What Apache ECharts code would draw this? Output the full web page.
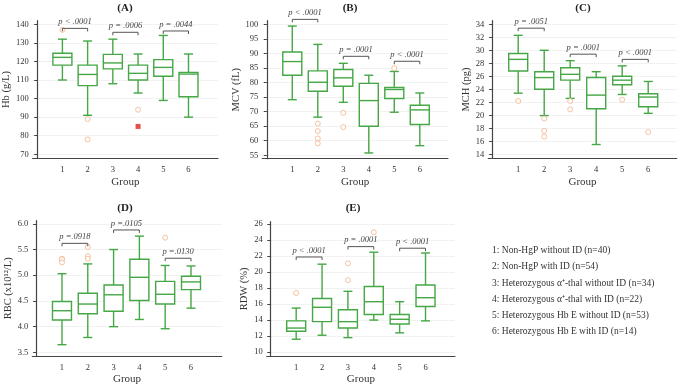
<!DOCTYPE html>
<html>
<head>
<meta charset="utf-8">
<script src="https://cdn.jsdelivr.net/npm/echarts@6/dist/echarts.min.js"></script>
<style>
  html, body { margin: 0; padding: 0; background: #fff; }
  #chart { width: 685px; height: 386px; }
</style>
</head>
<body>
<div id="chart"></div>
<script>
// groups on the x axis
const groups = [1, 2, 3, 4, 5, 6]
const groupLabels = [
  '1: Non-HgP without ID (n=40)',
  '2: Non-HgP with ID (n=54)',
  '3: Heterozygous α⁺-thal without ID (n=34)',
  '4: Heterozygous α⁺-thal with ID (n=22)',
  '5: Heterozygous Hb E without ID (n=53)',
  '6: Heterozygous Hb E with ID (n=14)'
]

// boxes: [min, q1, median, q3, max] per group
const hbBox = [[110, 118, 122.2, 124.4, 132], [91, 107, 113, 118, 131], [108, 116, 119.2, 123.8, 132], [103, 110, 113.6, 118, 124], [99, 112, 116.8, 121, 134], [90, 101, 113.2, 114.1, 124]]
const hbOut = [[1, 137], [2, 89], [2, 78], [4, 94]]
const hbFar = [[4, 85]]
const hbP = [[1, 2, 137.8, 'p < .0001'], [3, 4, 135.7, 'p = .0006'], [5, 6, 136.4, 'p = .0044']]
const hbTicks = [70, 80, 90, 100, 110, 120, 130, 140]

const mcvBox = [[74.1, 82.5, 87.2, 90.5, 99.4], [68.1, 77, 80.1, 84, 93.1], [73.2, 78.7, 81.6, 84.5, 86.6], [55.8, 65, 73.8, 79.7, 82.5], [69.8, 74.5, 77.6, 78.3, 83.8], [58.3, 65.6, 70.6, 72.2, 76.4]]
const mcvOut = [[2, 65.9], [2, 63.3], [2, 60.8], [2, 59.1], [3, 69.6], [3, 64.7], [5, 84.9]]
const mcvP = [[1, 2, 101.7, 'p < .0001'], [3, 4, 89.0, 'p = .0001'], [5, 6, 87.3, 'p < .0001']]
const mcvTicks = [55, 60, 65, 70, 75, 80, 85, 90, 95, 100]

const mchBox = [[23.4, 26.8, 28.6, 29.5, 32.3], [19.95, 24, 25.8, 26.7, 30], [22.6, 25.4, 26.3, 27.3, 28.4], [15.5, 21, 23.1, 25.8, 26.7], [23.2, 24.7, 25.4, 26, 27.6], [20.3, 21.3, 22.8, 23.3, 25.2]]
const mchOut = [[1, 22.2], [2, 19.5], [2, 17.6], [2, 16.7], [3, 22.2], [3, 20.9], [5, 22.4], [6, 17.4]]
const mchP = [[1, 2, 33.4, 'p = .0051'], [3, 4, 29.4, 'p = .0001'], [5, 6, 28.6, 'p < .0001']]
const mchTicks = [14, 16, 18, 20, 22, 24, 26, 28, 30, 32, 34]

const rbcBox = [[3.65, 4.13, 4.31, 4.49, 5.03], [3.79, 4.25, 4.44, 4.65, 5.22], [4.0, 4.3, 4.62, 4.81, 5.5], [4.14, 4.51, 4.96, 5.31, 5.76], [3.96, 4.44, 4.63, 4.88, 5.19], [4.36, 4.72, 4.87, 4.98, 5.18]]
const rbcOut = [[1, 5.32], [1, 5.31], [1, 5.25], [2, 5.55], [2, 5.37], [2, 5.32], [5, 5.73]]
const rbcP = [[1, 2, 5.62, 'p =.0918'], [3, 4, 5.88, 'p =.0105'], [5, 6, 5.33, 'p =.0130']]
const rbcTicks = [3.5, 4.0, 4.5, 5.0, 5.5, 6.0]

const rdwBox = [[11.6, 12.6, 13.0, 13.9, 15.5], [12.1, 13.8, 15.6, 16.7, 21], [11.8, 13.0, 13.8, 15.3, 17.6], [14.0, 14.7, 16.3, 18.2, 22.5], [12.4, 13.5, 14.1, 14.7, 16.3], [13.9, 15.7, 16.8, 18.4, 22.4]]
const rdwOut = [[1, 17.4], [3, 21.1], [3, 19.0], [4, 25.0]]
const rdwP = [[1, 2, 21.9, 'p < .0001'], [3, 4, 23.2, 'p = .0001'], [5, 6, 23.0, 'p < .0001']]
const rdwTicks = [10, 12, 14, 16, 18, 20, 22, 24, 26]

const boxColor = '#45a745'
const outColor = '#f3b48a'
const serif = 'Liberation Serif'

// panel frames (pixels) and axis ranges
const panels = [
  { tag: '(A)', name: 'Hb (g/L)', box: hbBox, out: hbOut, far: hbFar, p: hbP, ticks: hbTicks, dec: 0,
    grid: { left: 31, top: 20.7, width: 187, height: 137.6 }, x: [-0.18, 7.17], y: [67.85, 141.94], titleAt: [125, 8], nameGap: 18 },
  { tag: '(B)', name: 'MCV (fL)', box: mcvBox, out: mcvOut, p: mcvP, ticks: mcvTicks, dec: 0,
    grid: { left: 262.3, top: 20.7, width: 185.7, height: 138 }, x: [-0.176, 7.106], y: [53.83, 101.24], titleAt: [350, 8], nameGap: 17 },
  { tag: '(C)', name: 'MCH (pg)', box: mchBox, out: mchOut, p: mchP, ticks: mchTicks, dec: 0,
    grid: { left: 488.3, top: 20.7, width: 188.4, height: 137.6 }, x: [-0.15, 7.096], y: [13.38, 34.55], titleAt: [583, 8], nameGap: 14 },
  { tag: '(D)', name: 'RBC (x10¹²/L)', box: rbcBox, out: rbcOut, p: rbcP, ticks: rbcTicks, dec: 1,
    grid: { left: 32.3, top: 220.7, width: 189.4, height: 136.6 }, x: [-0.15, 7.19], y: [3.43, 6.06], titleAt: [125, 208], nameGap: 19 },
  { tag: '(E)', name: 'RDW (%)', box: rdwBox, out: rdwOut, p: rdwP, ticks: rdwTicks, dec: 0,
    grid: { left: 266.7, top: 221.7, width: 188.3, height: 136 }, x: [-0.14, 7.14], y: [9.5, 26.32], titleAt: [353, 208], nameGap: 17 }
]

function renderBox(params, api) {
  const x = api.value(0)
  const p = [1, 2, 3, 4, 5].map(i => api.coord([x, api.value(i)]))
  const cx = p[0][0]
  const half = 9.5
  const cap = 4.5
  const st = { stroke: boxColor, lineWidth: 1.4, fill: null }
  return {
    type: 'group',
    children: [
      { type: 'line', shape: { x1: cx, y1: p[3][1], x2: cx, y2: p[4][1] }, style: st },
      { type: 'line', shape: { x1: cx - cap, y1: p[4][1], x2: cx + cap, y2: p[4][1] }, style: st },
      { type: 'line', shape: { x1: cx, y1: p[1][1], x2: cx, y2: p[0][1] }, style: st },
      { type: 'line', shape: { x1: cx - cap, y1: p[0][1], x2: cx + cap, y2: p[0][1] }, style: st },
      { type: 'rect', shape: { x: cx - half, y: p[3][1], width: half * 2, height: p[1][1] - p[3][1] }, style: { stroke: boxColor, lineWidth: 1.4, fill: '#fff' } },
      { type: 'line', shape: { x1: cx - half, y1: p[2][1], x2: cx + half, y2: p[2][1] }, style: st }
    ]
  }
}

function renderBracket(params, api) {
  const a = api.coord([api.value(0), api.value(2)])
  const b = api.coord([api.value(1), api.value(2)])
  const leg = 3
  return {
    type: 'group',
    children: [
      { type: 'polyline', shape: { points: [[a[0], a[1] + leg], [a[0], a[1]], [b[0], b[1]], [b[0], b[1] + leg]] },
        style: { stroke: '#555', lineWidth: 1, fill: null } },
      { type: 'text', style: { text: api.value(3), x: (a[0] + b[0]) / 2, y: a[1] - 2, textAlign: 'center', textVerticalAlign: 'bottom',
        font: 'italic 8.5px "' + serif + '"', fill: '#444' } }
    ]
  }
}

const grid = [], xAxis = [], yAxis = [], series = [], graphic = []
panels.forEach((pn, i) => {
  grid.push(pn.grid)
  xAxis.push({
    gridIndex: i, type: 'value', min: pn.x[0], max: pn.x[1],
    name: 'Group', nameLocation: 'middle', nameGap: 18,
    nameTextStyle: { fontFamily: serif, fontSize: 11, color: '#333' },
    axisLine: { lineStyle: { color: '#444', width: 1.2 } },
    axisTick: { show: false },
    splitLine: { show: false },
    axisLabel: { customValues: groups, fontFamily: serif, fontSize: 8.5, color: '#333', margin: 7 }
  })
  yAxis.push({
    gridIndex: i, type: 'value', min: pn.y[0], max: pn.y[1],
    name: pn.name, nameLocation: 'middle', nameGap: pn.nameGap,
    nameTextStyle: { fontFamily: serif, fontSize: 10.5, color: '#333' },
    axisLine: { show: true, lineStyle: { color: '#444', width: 1.2 } },
    axisTick: { show: true, customValues: pn.ticks, length: 3, lineStyle: { color: '#444' } },
    splitLine: { show: true, lineStyle: { color: '#e4e4e4', type: 'dotted' } },
    axisLabel: { customValues: pn.ticks, fontFamily: serif, fontSize: 8.5, color: '#333', margin: 4,
      formatter: v => v.toFixed(pn.dec) }
  })
  series.push({
    type: 'custom', xAxisIndex: i, yAxisIndex: i, renderItem: renderBox,
    encode: { x: 0, y: [1, 2, 3, 4, 5] },
    data: pn.box.map((b, k) => [groups[k]].concat(b)), z: 2
  })
  series.push({
    type: 'scatter', xAxisIndex: i, yAxisIndex: i, data: pn.out, symbol: 'circle', symbolSize: 5,
    itemStyle: { color: '#fff', borderColor: outColor, borderWidth: 1 }, z: 3
  })
  if (pn.far) {
    series.push({
      type: 'scatter', xAxisIndex: i, yAxisIndex: i, data: pn.far, symbol: 'rect', symbolSize: 5,
      itemStyle: { color: '#e2231a' }, z: 3
    })
  }
  series.push({
    type: 'custom', xAxisIndex: i, yAxisIndex: i, renderItem: renderBracket,
    encode: { x: [0, 1], y: 2 }, data: pn.p, z: 4, clip: false
  })
  graphic.push({
    type: 'text', x: pn.titleAt[0], y: pn.titleAt[1],
    style: { text: pn.tag, textAlign: 'center', textVerticalAlign: 'middle', font: 'bold 11px "' + serif + '"', fill: '#222' }
  })
})

groupLabels.forEach((t, k) => {
  graphic.push({
    type: 'text', x: 492, y: 250.7 + k * 16.2,
    style: { text: t, textVerticalAlign: 'middle', font: '9.5px "' + serif + '"', fill: '#333' }
  })
})

const chart = echarts.init(document.getElementById('chart'))
chart.setOption({
  animation: false,
  backgroundColor: '#fff',
  grid, xAxis, yAxis, series, graphic
})
</script>
</body>
</html>
